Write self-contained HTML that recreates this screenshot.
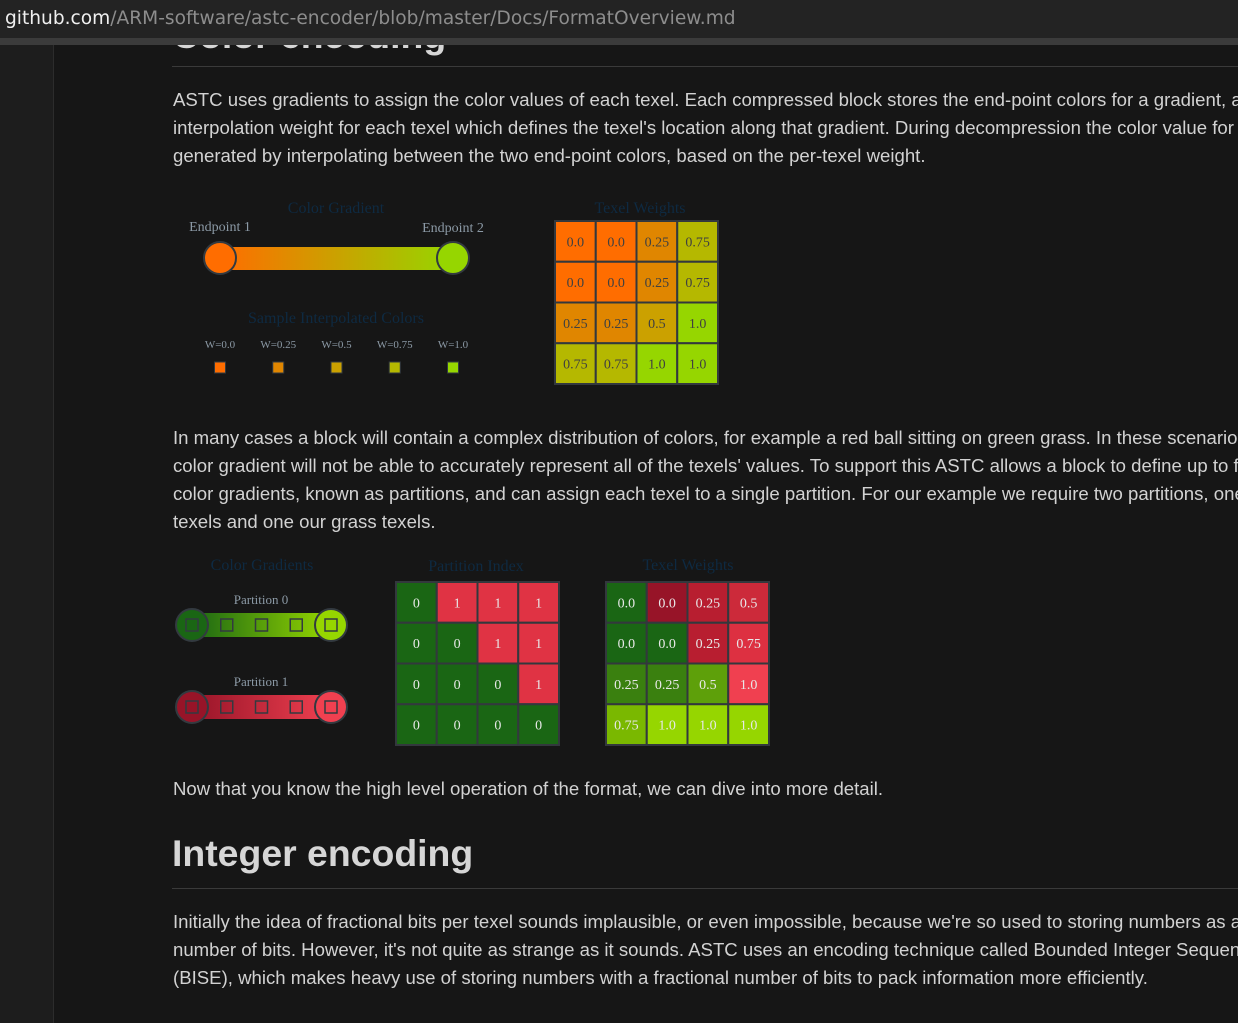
<!DOCTYPE html>
<html><head><meta charset="utf-8">
<style>
html,body{margin:0;padding:0;width:1238px;height:1023px;overflow:hidden;background:#161616;font-family:"Liberation Sans",sans-serif;}
#wrap{position:absolute;left:0;top:0;width:1238px;height:1023px;overflow:hidden;}
#topbar{position:absolute;left:0;top:0;width:1238px;height:38px;background:#232323;z-index:10;}
#url{position:absolute;left:5px;top:8px;font-family:"DejaVu Sans","Liberation Sans",sans-serif;font-size:18.6px;color:#8d8d8d;white-space:nowrap;}
#url b{font-weight:normal;color:#f0f0f0;}
#strip{position:absolute;left:0;top:38px;width:1238px;height:7px;background:#3b3b3b;z-index:10;}
#side{position:absolute;left:0;top:45px;width:53px;height:978px;background:#1d1d1d;border-right:1px solid #2c2c2c;}
.t{position:absolute;left:173px;white-space:nowrap;color:#d2d2d2;font-size:18.6px;line-height:28px;}
.hr{position:absolute;left:172px;width:1066px;height:1px;background:#3a3a3a;}
h2{position:absolute;margin:0;left:172px;font-size:37.4px;font-weight:bold;color:#d6d6d6;white-space:nowrap;}
svg{position:absolute;left:0;top:0;}
</style></head><body><div id="wrap">
<div id="topbar"><div id="url"><b>github.com</b>/ARM-software/astc-encoder/blob/master/Docs/FormatOverview.md</div></div>
<div id="strip"></div>
<div id="side"></div>
<h2 style="top:14px;">Color encoding</h2>
<div class="hr" style="top:66px"></div>
<div class="t" style="top:86px">ASTC uses gradients to assign the color values of each texel. Each compressed block stores the end-point colors for a gradient, and an<br>interpolation weight for each texel which defines the texel's location along that gradient. During decompression the color value for each texel is<br>generated by interpolating between the two end-point colors, based on the per-texel weight.</div>
<div class="t" style="top:424px">In many cases a block will contain a complex distribution of colors, for example a red ball sitting on green grass. In these scenarios a single<br>color gradient will not be able to accurately represent all of the texels' values. To support this ASTC allows a block to define up to four distinct<br>color gradients, known as partitions, and can assign each texel to a single partition. For our example we require two partitions, one for our ball<br>texels and one our grass texels.</div>
<div class="t" style="top:775px">Now that you know the high level operation of the format, we can dive into more detail.</div>
<h2 style="top:832px;">Integer encoding</h2>
<div class="hr" style="top:888px"></div>
<div class="t" style="top:908px">Initially the idea of fractional bits per texel sounds implausible, or even impossible, because we're so used to storing numbers as a whole<br>number of bits. However, it's not quite as strange as it sounds. ASTC uses an encoding technique called Bounded Integer Sequence Encoding<br>(BISE), which makes heavy use of storing numbers with a fractional number of bits to pack information more efficiently.</div>

<svg id="dia" width="1238" height="1023">
<defs>
<linearGradient id="g1" x1="0" x2="1"><stop offset="0" stop-color="#ff6d00"/><stop offset="1" stop-color="#96d600"/></linearGradient>
<linearGradient id="gp0" x1="0" x2="1"><stop offset="0" stop-color="#1a6614"/><stop offset="1" stop-color="#96d600"/></linearGradient>
<linearGradient id="gp1" x1="0" x2="1"><stop offset="0" stop-color="#971428"/><stop offset="1" stop-color="#f04050"/></linearGradient>
</defs>
</svg>
</div>
<script>
const tw1Values=[["0.0","0.0","0.25","0.75"],["0.0","0.0","0.25","0.75"],["0.25","0.25","0.5","1.0"],["0.75","0.75","1.0","1.0"]];
const tw1Colors=[["#ff6d00","#ff6d00","#e08600","#b5b800"],["#ff6d00","#ff6d00","#e08600","#b5b800"],["#e08600","#e08600","#cba100","#96d600"],["#b5b800","#b5b800","#96d600","#96d600"]];
const sampleLabels=["W=0.0","W=0.25","W=0.5","W=0.75","W=1.0"];
const sampleColors=["#ff6d00","#e08600","#cba100","#b5b800","#96d600"];
const partIndex=[[0,1,1,1],[0,0,1,1],[0,0,0,1],[0,0,0,0]];
const partColors=["#1a6614","#e03344"];
const tw2Values=[["0.0","0.0","0.25","0.5"],["0.0","0.0","0.25","0.75"],["0.25","0.25","0.5","1.0"],["0.75","1.0","1.0","1.0"]];
const tw2Colors=[["#1a6614","#971428","#b81e30","#cc2a3a"],["#1a6614","#1a6614","#b81e30","#dd3041"],["#3a800f","#3a800f","#5ea00a","#f04050"],["#7ab800","#96d600","#96d600","#96d600"]];

const svg=document.getElementById('dia');
const NS="http://www.w3.org/2000/svg";
function mk(tag,attrs,parent){const e=document.createElementNS(NS,tag);for(const k in attrs)e.setAttribute(k,attrs[k]);(parent||svg).appendChild(e);return e;}
function txt(x,y,s,size,fill){const e=mk('text',{x:x,y:y,'text-anchor':'middle','font-family':'Liberation Serif, serif','font-size':size,fill:fill});e.textContent=s;return e;}
const titleC="#0e2a42";
function grid(x0,y0,cell,vals,cols,tcol,name){
  for(let r=0;r<vals.length;r++)for(let c=0;c<vals[r].length;c++){
    const rc=mk('rect',{x:x0+c*cell,y:y0+r*cell,width:cell,height:cell,fill:cols[r][c],stroke:'#33383d','stroke-width':2});
    
    
    const t=txt(x0+c*cell+cell/2,y0+r*cell+cell/2+5,vals[r][c],14,tcol);
    
    
  }
}
let e;
e=txt(336,213,"Color Gradient",16,titleC);
e=txt(220,231,"Endpoint  1",14,"#8c9aa6");
e=txt(453,232,"Endpoint  2",14,"#8c9aa6");
e=mk('rect',{x:220,y:247,width:233,height:23,fill:'url(#g1)'});
e=mk('circle',{cx:220,cy:258,r:16,fill:'#ff6d00',stroke:'#333a40','stroke-width':2});
e=mk('circle',{cx:453,cy:258,r:16,fill:'#96d600',stroke:'#333a40','stroke-width':2});
e=txt(336,323,"Sample Interpolated Colors",16,titleC);
sampleLabels.forEach((s,i)=>{const x=220+i*58.25;
  const t=txt(x,348,s,11,"#8c9aa6");
  const r=mk('rect',{x:x-5.5,y:362,width:11,height:11,fill:sampleColors[i],stroke:'#333a40','stroke-width':1});});
e=txt(640,213,"Texel Weights",16,titleC);
grid(555,221,40.75,tw1Values,tw1Colors,"#404040","texel-weights-1");
e=txt(262,570,"Color Gradients",16,titleC);
[["Partition 0",625,'url(#gp0)','#1a6614','#96d600'],["Partition 1",707,'url(#gp1)','#971428','#f04050']].forEach((p,pi)=>{
  const t=txt(261,p[1]-21,p[0],13,"#8c9aa6");
  const b=mk('rect',{x:192,y:p[1]-12,width:139,height:24,fill:p[2]});
  const c1=mk('circle',{cx:192,cy:p[1],r:16,fill:p[3],stroke:'#333a40','stroke-width':2});
  const c2=mk('circle',{cx:331,cy:p[1],r:16,fill:p[4],stroke:'#333a40','stroke-width':2});
  for(let i=0;i<5;i++){const s=mk('rect',{x:186+i*34.75,y:p[1]-6,width:12,height:12,fill:'none',stroke:'#333a40','stroke-width':1.5});}
});
e=txt(476,571,"Partition Index",16,titleC);
grid(396,582,40.75,partIndex.map(r=>r.map(String)),partIndex.map(r=>r.map(v=>partColors[v])),"#e8e8e8","partition-index");
e=txt(688,570,"Texel Weights",16,titleC);
grid(606,582,40.75,tw2Values,tw2Colors,"#e8e8e8","texel-weights-2");
</script>
</body></html>
